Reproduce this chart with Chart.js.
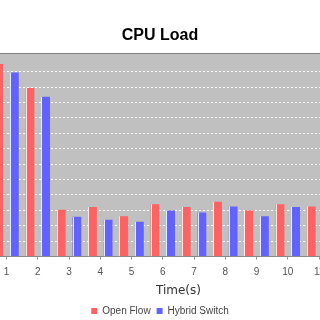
<!DOCTYPE html>
<html><head><meta charset="utf-8">
<script src="https://cdn.jsdelivr.net/npm/chart.js@4/dist/chart.umd.min.js"></script>
<style>
html,body{margin:0;padding:0;background:#fff;width:320px;height:320px;overflow:hidden;position:relative}
#wrap{position:absolute;left:-46px;top:0;width:412px;height:328px}
</style></head><body>
<div id="wrap"><canvas id="c" width="412" height="328"></canvas></div>
<script>
// Data
const categories = ['1','2','3','4','5','6','7','8','9','10','11','12'];
const openFlow     = [62.5, 54.7, 15.2, 16.1, 13.1, 17.0, 16.1, 17.8, 15.0, 17.0, 16.3, 16.0];
const hybridSwitch = [59.8, 51.9, 12.9, 12.0, 11.3, 15.0, 14.3, 16.3, 13.1, 16.1, 14.5, 14.0];
const seriesNames  = ['Open Flow', 'Hybrid Switch'];
const yMax = 66;
const yStep = 5;

const plotStyle = {
  id: 'plotStyle',
  beforeDraw(chart) {
    const {ctx, chartArea: a} = chart;
    ctx.save();
    ctx.fillStyle = '#c0c0c0';
    ctx.fillRect(a.left, a.top, a.right - a.left, a.bottom - a.top);
    ctx.restore();
  },
  afterDatasetsDraw(chart) {
    const {ctx} = chart;
    ctx.save();
    chart.data.datasets.forEach((ds, i) => {
      chart.getDatasetMeta(i).data.forEach(bar => {
        const p = bar.getProps(['x','y','base','width'], true);
        ctx.fillStyle = 'rgba(255,255,255,0.85)';
        ctx.fillRect(Math.round(p.x - p.width/2), p.y, 1, p.base - p.y);
      });
    });
    ctx.restore();
  },
  afterDraw(chart) {
    const {ctx, chartArea: a} = chart;
    ctx.save();
    ctx.strokeStyle = '#808080';
    ctx.lineWidth = 1;
    ctx.beginPath();
    ctx.moveTo(a.left, Math.round(a.top) + 0.5);
    ctx.lineTo(a.right, Math.round(a.top) + 0.5);
    ctx.stroke();
    ctx.restore();
  }
};

new Chart(document.getElementById('c'), {
  type: 'bar',
  data: {
    labels: categories,
    datasets: [
      {label: seriesNames[0], data: openFlow, backgroundColor: '#ff6262', borderWidth: 0},
      {label: seriesNames[1], data: hybridSwitch, backgroundColor: '#6262ff', borderWidth: 0}
    ]
  },
  options: {
    responsive: false,
    animation: false,
    devicePixelRatio: 1,
    layout: {padding: {left: 0, right: 0, top: 0, bottom: 2}},
    datasets: {bar: {categoryPercentage: 1.0, barPercentage: 0.56}},
    plugins: {
      title: {
        display: true, text: 'CPU Load', color: '#000',
        font: {family: 'Liberation Sans', size: 16, weight: 'bold'},
        padding: {top: 26.4, bottom: 7.7}
      },
      legend: {
        position: 'bottom',
        labels: {
          boxWidth: 6, boxHeight: 6, padding: 6, color: '#444',
          font: {family: 'Liberation Sans', size: 10}
        }
      },
      tooltip: {enabled: false}
    },
    scales: {
      x: {
        offset: true,
        grid: {offset: false, drawOnChartArea: false, drawTicks: true, tickLength: 3, color: '#999'},
        border: {display: true, color: '#888', width: 1},
        ticks: {color: '#555', padding: 6.5, font: {family: 'Liberation Sans', size: 10}, maxRotation: 0, autoSkip: false},
        title: {display: true, text: 'Time(s)', color: '#333', font: {family: 'DejaVu Sans', size: 12}, padding: {top: -1, bottom: 2}}
      },
      y: {
        min: 0, max: yMax,
        afterFit(scale) { scale.width = 36.95; },
        grid: {color: '#ffffff', lineWidth: 1, drawTicks: false},
        border: {display: false, dash: [2, 2]},
        ticks: {display: false, stepSize: yStep}
      }
    }
  },
  plugins: [plotStyle]
});
</script>
</body></html>
